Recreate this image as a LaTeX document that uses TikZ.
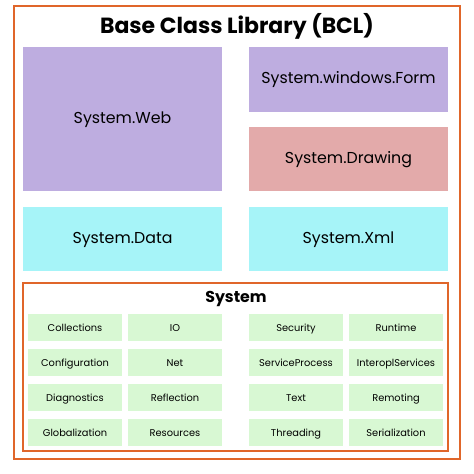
\documentclass[tikz,border=0pt]{standalone}
\usepackage{fontspec}
\setmainfont{Poppins}
\usetikzlibrary{positioning}

\definecolor{bclorange}{HTML}{E0662A}
\definecolor{bclpurple}{HTML}{BEADE0}
\definecolor{bclred}{HTML}{E3AAAA}
\definecolor{bclcyan}{HTML}{A6F4F8}
\definecolor{bclgreen}{HTML}{D8F8D3}

\begin{document}
\begin{tikzpicture}[x=0.02cm,y=-0.02cm,
  frame/.style={draw=bclorange,line width=1.1pt},
  libbox/.style={inner sep=0pt,minimum width=3.98cm,text height=0.72em,text depth=0.22em,font=\fontsize{9}{11}\selectfont},
  nsbox/.style={fill=bclgreen,inner sep=0pt,minimum width=1.88cm,minimum height=0.54cm,text height=0.72em,text depth=0.22em,font=\fontsize{5.6}{7}\selectfont}]
\useasboundingbox (0,0) rectangle (474,474);
\draw[frame] (14,6) rectangle (460,459);
\node[font=\bfseries\fontsize{12.5}{15}\selectfont] (title) at (237,26) {Base Class Library (BCL)};

\node[libbox,fill=bclpurple,minimum height=2.88cm] (web) at (122.5,119) {System.Web};
\node[libbox,fill=bclpurple,minimum height=1.3cm] (form) at (348.5,79.5) {System.windows.Form};
\node[libbox,fill=bclred,minimum height=1.28cm] (drawing) at (348.5,159) {System.Drawing};
\node[libbox,fill=bclcyan,minimum height=1.28cm] (data) at (122.5,239) {System.Data};
\node[libbox,fill=bclcyan,minimum height=1.28cm] (xml) at (348.5,239) {System.Xml};

% System namespace
\draw[frame] (23,283) rectangle (448,451);
\node[font=\bfseries\fontsize{9}{11}\selectfont] (system) at (236,299) {System};
\foreach \lbl/\c/\r in {Collections/75/327.5, IO/175/327.5, Security/296/327.5, Runtime/396/327.5,
    Configuration/75/362.5, Net/175/362.5, ServiceProcess/296/362.5, InteroplServices/396/362.5,
    Diagnostics/75/397.5, Reflection/175/397.5, Text/296/397.5, Remoting/396/397.5,
    Globalization/75/432, Resources/175/432, Threading/296/432, Serialization/396/432}
  \node[nsbox] (ns-\lbl) at (\c,\r) {\lbl};
\end{tikzpicture}
\end{document}
